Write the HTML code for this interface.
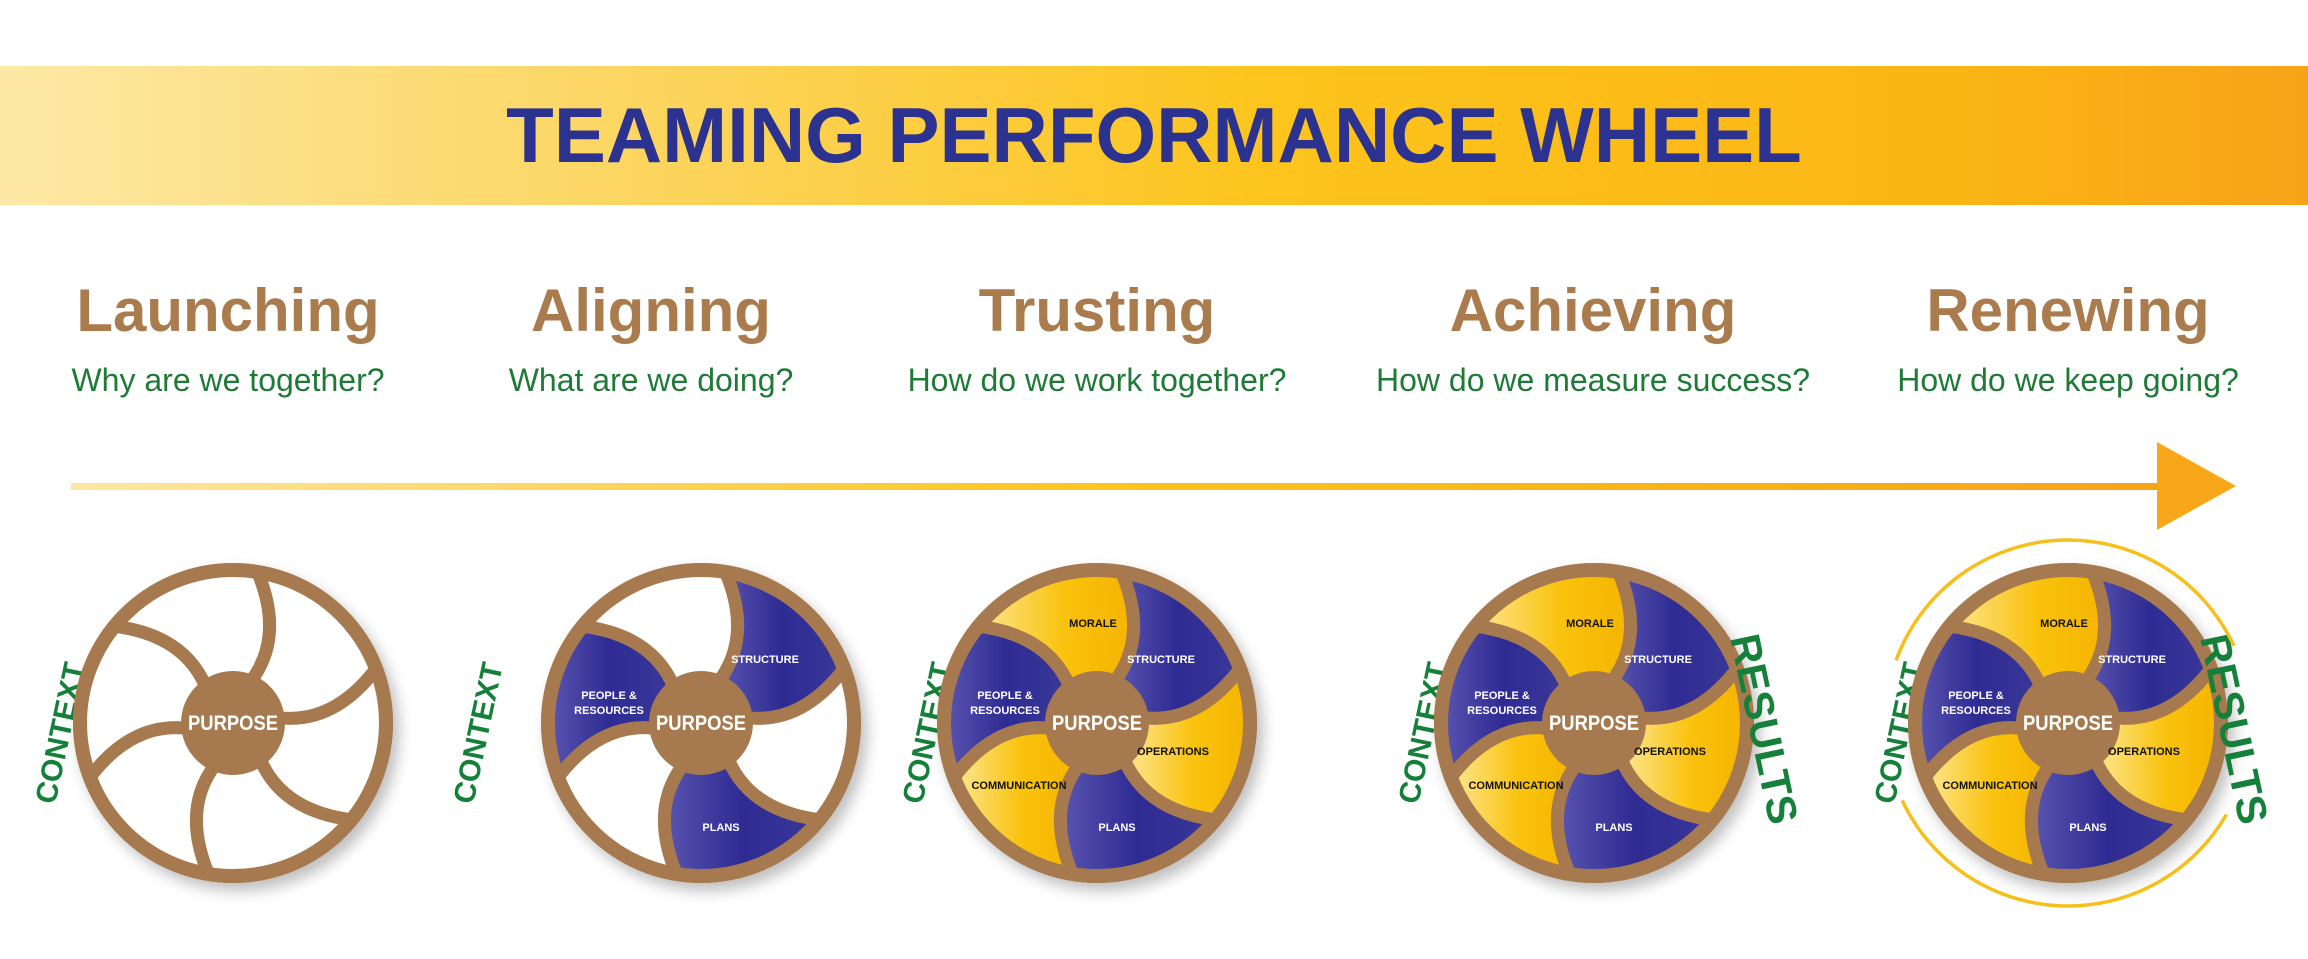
<!DOCTYPE html>
<html><head><meta charset="utf-8">
<style>
html,body{margin:0;padding:0;background:#fff;}
body{width:2308px;height:959px;overflow:hidden;position:relative;font-family:"Liberation Sans",sans-serif;}
#band{position:absolute;left:0;top:66px;width:2308px;height:139px;background:linear-gradient(90deg,#fde9a6 0%,#fcd766 25%,#fcc41c 55%,#fbb515 85%,#f7a318 100%);}
#title{position:absolute;left:0;width:2308px;top:66px;height:139px;line-height:139px;text-align:center;font-weight:bold;font-size:78px;color:#2b3290;}
.h{position:absolute;width:600px;text-align:center;font-weight:bold;font-size:60px;color:#a97b4d;top:276px;}
.s{position:absolute;width:600px;text-align:center;font-size:32px;color:#1f7a38;top:362px;}
svg{position:absolute;left:0;top:0;}
</style></head><body>
<div id="band"></div>
<div id="title">TEAMING PERFORMANCE WHEEL</div>
<div class="h" style="left:-72px">Launching</div><div class="s" style="left:-72px">Why are we together?</div>
<div class="h" style="left:351px">Aligning</div><div class="s" style="left:351px">What are we doing?</div>
<div class="h" style="left:797px">Trusting</div><div class="s" style="left:797px">How do we work together?</div>
<div class="h" style="left:1293px">Achieving</div><div class="s" style="left:1293px">How do we measure success?</div>
<div class="h" style="left:1768px">Renewing</div><div class="s" style="left:1768px">How do we keep going?</div>
<svg id="sv" width="2308" height="959" xmlns="http://www.w3.org/2000/svg">
<defs>
<linearGradient id="ag" x1="0" x2="1" y1="0" y2="0"><stop offset="0" stop-color="#fde7a0"/><stop offset="0.5" stop-color="#fcc41c"/><stop offset="1" stop-color="#f7a318"/></linearGradient>
<linearGradient id="bl" x1="0" x2="1" y1="0" y2="0"><stop offset="0" stop-color="#5a55b0"/><stop offset="0.5" stop-color="#2e2b93"/><stop offset="1" stop-color="#3a3898"/></linearGradient>
<linearGradient id="ye" x1="0" x2="1" y1="0" y2="0"><stop offset="0" stop-color="#fde690"/><stop offset="0.55" stop-color="#f9c20c"/><stop offset="1" stop-color="#f5b400"/></linearGradient>
<filter id="sh" x="-20%" y="-20%" width="150%" height="150%"><feDropShadow dx="6" dy="8" stdDeviation="7" flood-color="#000" flood-opacity="0.25"/></filter>
</defs>
<rect x="71" y="483" width="2090" height="7" fill="url(#ag)"/>
<polygon points="2157,442 2236,486 2157,530" fill="#f8a71a"/>
<g id="wheels"></g>
</svg>
<script>
var NS="http://www.w3.org/2000/svg";
var W=document.getElementById("wheels");
function el(t,a,txt){var e=document.createElementNS(NS,t);for(var k in a)e.setAttribute(k,a[k]);if(txt)e.textContent=txt;W.appendChild(e);return e;}
var R=152,RH=50,HO=14,CO=22;
function P(cx,cy,r,a){a=a*Math.PI/180;return [cx+r*Math.cos(a),cy+r*Math.sin(a)];}
var rimA=[-81,-21,39,99,159,219];
var labels=["MORALE","STRUCTURE","OPERATIONS","PLANS","COMMUNICATION","PEOPLE &|RESOURCES"];
var lpos=[[-4,-100],[64,-64],[76,28],[20,104],[-78,62],[-92,-20]];
function wheel(cx,cy,fills){
 el("circle",{cx:cx,cy:cy,r:160,fill:"#a67a4e",filter:"url(#sh)"});
 for(var i=0;i<6;i++){
  var f=fills[(i+1)%6];
  var a1=rimA[i],a2=rimA[(i+1)%6];
  var h1=P(cx,cy,RH,a1+HO),c1=P(cx,cy,(RH+R)/2,a1+CO),e1=P(cx,cy,R,a1);
  var h2=P(cx,cy,RH,a2+HO),c2=P(cx,cy,(RH+R)/2,a2+CO),e2=P(cx,cy,R,a2);
  var d="M"+h1[0]+","+h1[1]+" Q"+c1[0]+","+c1[1]+" "+e1[0]+","+e1[1]+" A"+R+","+R+" 0 0 1 "+e2[0]+","+e2[1]+" Q"+c2[0]+","+c2[1]+" "+h2[0]+","+h2[1]+" Z";
  el("path",{d:d,fill:f=="b"?"url(#bl)":f=="y"?"url(#ye)":"#fff"});
 }
 for(var i=0;i<6;i++){var a=rimA[i];var p0=P(cx,cy,RH-5,a+HO),c=P(cx,cy,(RH+R)/2,a+CO),p1=P(cx,cy,R+2,a);
  el("path",{d:"M"+p0[0]+","+p0[1]+" Q"+c[0]+","+c[1]+" "+p1[0]+","+p1[1],stroke:"#a67a4e","stroke-width":13,fill:"none"});}
 el("circle",{cx:cx,cy:cy,r:R+1,fill:"none",stroke:"#a67a4e","stroke-width":14});
 el("circle",{cx:cx,cy:cy,r:RH+2,fill:"#a67a4e"});
 el("text",{x:cx,y:cy+7,"text-anchor":"middle","font-size":21,"font-weight":"bold",fill:"#fff",textLength:90,lengthAdjust:"spacingAndGlyphs"},"PURPOSE");
 for(var i=0;i<6;i++){if(!fills[i])continue;var t=labels[i].split("|");var col=fills[i]=="b"?"#fff":"#111";
  for(var j=0;j<t.length;j++) el("text",{x:cx+lpos[i][0],y:cy+lpos[i][1]+j*15+(t.length>1?-4:4),"text-anchor":"middle","font-size":11,"font-weight":"bold",fill:col},t[j]);}
}
function ctx(x,y){el("text",{x:0,y:0,transform:"translate("+x+","+y+") rotate(-78)","text-anchor":"middle","font-size":30,"font-weight":"bold",fill:"#15803a"},"CONTEXT");}
function res(x,y){el("text",{x:0,y:0,transform:"translate("+x+","+y+") rotate(78)","text-anchor":"middle","font-size":42,"font-weight":"bold",fill:"#15803a"},"RESULTS");}
ctx(70,735);wheel(233,723,[0,0,0,0,0,0]);
ctx(488,735);wheel(701,723,[0,"b",0,"b",0,"b"]);
ctx(937,735);wheel(1097,723,["y","b","y","b","y","b"]);
ctx(1433,735);wheel(1594,723,["y","b","y","b","y","b"]);res(1750,732);
ctx(1909,735);wheel(2068,723,["y","b","y","b","y","b"]);res(2220,732);
function arc(cx,cy,r,a1,a2){var p=P(cx,cy,r,a1),q=P(cx,cy,r,a2);el("path",{d:"M"+p[0]+","+p[1]+" A"+r+","+r+" 0 0 1 "+q[0]+","+q[1],fill:"none",stroke:"#f6bf1a","stroke-width":3.5});}
arc(2068,723,183,-160,-25);arc(2068,723,183,30,155);
</script>
</body></html>
